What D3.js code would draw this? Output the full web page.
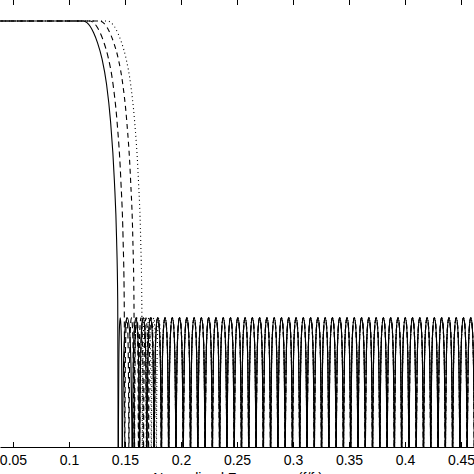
<!DOCTYPE html>
<html>
<head>
<meta charset="utf-8">
<script src="https://cdn.jsdelivr.net/npm/d3@7"></script>
<style>
  body { margin: 0; background: #fff; }
  text { font-family: "Liberation Sans", Arial, sans-serif; }
</style>
</head>
<body>
<svg id="chart" width="474" height="474"></svg>
<script>
// tick values on the frequency axis
const xTicks = [0.05, 0.1, 0.15, 0.2, 0.25, 0.3, 0.35, 0.4, 0.45];

// passband + transition band, [frequency, dB]
const transSolid  = [[0, 0], [0.113, 0], [0.116, -0.4], [0.119, -1.3], [0.122, -2.8], [0.1255, -5.2], [0.1295, -9], [0.1335, -15], [0.137, -23.6], [0.1405, -37.9], [0.1425, -52], [0.1435, -66.5], [0.144, -110]];
const transDash1  = [[0, 0], [0.1188, 0], [0.1218, -0.4], [0.1248, -1.3], [0.1278, -2.8], [0.1313, -5.2], [0.1353, -9], [0.1393, -15], [0.1428, -23.6], [0.1463, -37.9], [0.1483, -52], [0.1493, -66.5], [0.1498, -110]];
const transDash2  = [[0, 0], [0.1275, 0], [0.1305, -0.4], [0.1335, -1.3], [0.1365, -2.8], [0.1400, -5.2], [0.1440, -9], [0.1480, -15], [0.1515, -23.6], [0.1550, -37.9], [0.1570, -52], [0.1580, -66.5], [0.1585, -110]];
const transDotted = [[0, 0], [0.1345, 0], [0.1375, -0.4], [0.1405, -1.3], [0.1435, -2.8], [0.1470, -5.2], [0.1510, -9], [0.1550, -15], [0.1585, -23.6], [0.1620, -37.9], [0.1640, -52], [0.1650, -66.5], [0.1655, -110]];

// stopband nulls of each response (frequencies)
const nullsSolid  = [0.1440, 0.1475];
const nullsDash1  = [0.1498, 0.1535, 0.1580];
const nullsDash2  = [0.1585, 0.1620, 0.1665, 0.1710];
const nullsDotted = [0.1655, 0.1690, 0.1735, 0.1780];
const nullsShared = [0.1500, 0.1565, 0.1630, 0.1695, 0.1760, 0.1825, 0.1890, 0.1955, 0.2020, 0.2085,
  0.2150, 0.2215, 0.2280, 0.2345, 0.2410, 0.2475, 0.2540, 0.2605, 0.2670, 0.2735,
  0.2800, 0.2865, 0.2930, 0.2995, 0.3060, 0.3125, 0.3190, 0.3255, 0.3320, 0.3385,
  0.3450, 0.3515, 0.3580, 0.3645, 0.3710, 0.3775, 0.3840, 0.3905, 0.3970, 0.4035,
  0.4100, 0.4165, 0.4230, 0.4295, 0.4360, 0.4425, 0.4490, 0.4555, 0.4620, 0.4685];

// shape of one sidelobe: [fraction between nulls, dB]
const lobeShape = [[0, -110], [0.04, -95], [0.12, -81], [0.25, -73], [0.5, -69.5], [0.75, -73], [0.88, -81], [0.96, -95], [1, -110]];

const series = [
  { trans: transSolid,  nulls: nullsSolid,  dash: null },
  { trans: transDash1,  nulls: nullsDash1,  dash: '6,4' },
  { trans: transDash2,  nulls: nullsDash2,  dash: '5,4' },
  { trans: transDotted, nulls: nullsDotted, dash: '1,3' },
];

const width = 474, height = 474;
const axisY = 447;

const svg = d3.select('#chart');
const xScale = d3.scaleLinear().domain([0.0384, 0.4616]).range([0, width]);
const yScale = d3.scaleLinear().domain([5, -101.4]).range([0, axisY]);

svg.append('clipPath').attr('id', 'plot')
  .append('rect').attr('x', 0).attr('y', 0).attr('width', width).attr('height', axisY);

const line = d3.line()
  .x(d => xScale(d[0]))
  .y(d => yScale(d[1]))
  .curve(d3.curveMonotoneX);

const g = svg.append('g').attr('clip-path', 'url(#plot)');

series.forEach(s => {
  const nulls = s.nulls.concat(nullsShared.filter(f => f > s.nulls[s.nulls.length - 1] + 0.003));
  // transition band
  g.append('path')
    .attr('d', line(s.trans))
    .attr('fill', 'none').attr('stroke', '#000').attr('stroke-width', 1.1)
    .attr('stroke-dasharray', s.dash);
  // sidelobes
  for (let i = 0; i < nulls.length - 1; i++) {
    const a = nulls[i], b = nulls[i + 1];
    const pts = lobeShape.map(p => [a + p[0] * (b - a), p[1]]);
    g.append('path')
      .attr('d', d3.line().x(d => xScale(d[0])).y(d => yScale(d[1])).curve(d3.curveBasis)(pts))
      .attr('fill', 'none').attr('stroke', '#000').attr('stroke-width', 1.1)
      .attr('stroke-dasharray', s.dash);
  }
});

// bottom axis, ticks inside
const xAxis = d3.axisBottom(xScale).tickValues(xTicks).tickSizeInner(-5).tickSizeOuter(0)
  .tickPadding(8).tickFormat(d => `${d}`);
const ax = svg.append('g').attr('transform', `translate(0, ${axisY})`).call(xAxis);
ax.select('.domain').attr('stroke', '#000').attr('stroke-width', 1.2);
ax.selectAll('.tick line').attr('stroke', '#000');
ax.selectAll('.tick text').attr('font-size', 14).attr('fill', '#000')
  .attr('font-family', '"Liberation Sans", Arial, sans-serif');

// top ticks
const topAxis = svg.append('g').call(d3.axisTop(xScale).tickValues(xTicks).tickSizeInner(-5).tickSizeOuter(0).tickFormat(''));
topAxis.select('.domain').remove();
topAxis.selectAll('.tick line').attr('stroke', '#000');

svg.append('text')
  .attr('x', 238).attr('y', 483)
  .attr('text-anchor', 'middle').attr('font-size', 14)
  .text('Normalized Frequency (f/f\u209B)');
</script>
</body>
</html>
